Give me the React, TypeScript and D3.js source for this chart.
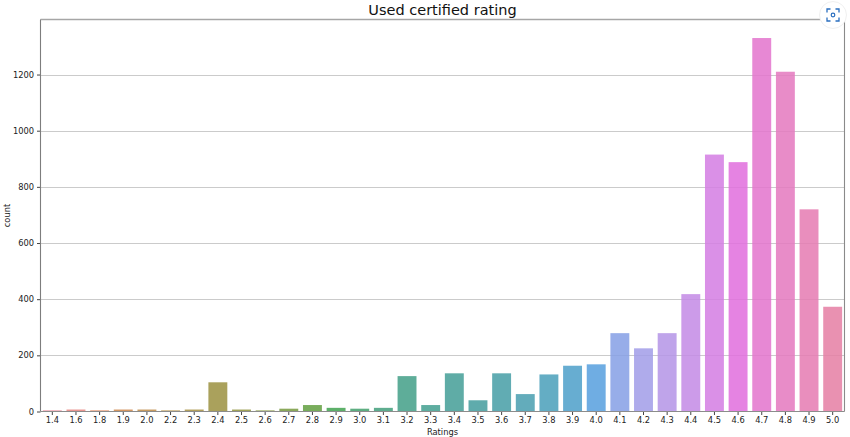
import * as d3 from "d3";
import React from "react";

const ratings = [
  "1.4", "1.6", "1.8", "1.9", "2.0", "2.2", "2.3", "2.4", "2.5", "2.6", "2.7", "2.8",
  "2.9", "3.0", "3.1", "3.2", "3.3", "3.4", "3.5", "3.6", "3.7", "3.8", "3.9", "4.0",
  "4.1", "4.2", "4.3", "4.4", "4.5", "4.6", "4.7", "4.8", "4.9", "5.0",
];
const counts = [
  4, 7, 4, 7, 7, 4, 7, 104, 7, 4, 10, 23,
  13, 10, 13, 126, 23, 136, 40, 136, 62, 132, 163, 168,
  279, 225, 279, 418, 915, 888, 1330, 1210, 720, 373,
];
const yTicks = [0, 200, 400, 600, 800, 1000, 1200];

const M = [
  [3.240969941904521, -1.537383177570093, -0.498610760292],
  [-0.96924363628087, 1.87596750150772, 0.041555057407175],
  [0.055630079696993, -0.20397695888897, 1.056971514242878],
];

// seaborn's default palette for many categories (husl), then its 0.75 saturation
function huslColor(i: number, n: number): string {
  const h = (((i / n + 0.01) % 1) * 359 * Math.PI) / 180;
  const S = 0.9 * 99;
  const L = 0.65 * 99;
  const sub1 = Math.pow(L + 16, 3) / 1560896;
  const sub2 = sub1 > 0.0088564516 ? sub1 : L / 903.2962962;
  let maxC = Infinity;
  M.forEach(([m1, m2, m3]) => {
    [0, 1].forEach((t) => {
      const top1 = (284517 * m1 - 94839 * m3) * sub2;
      const top2 = (838422 * m3 + 769860 * m2 + 731718 * m1) * L * sub2 - 769860 * t * L;
      const bottom = (632260 * m3 - 126452 * m2) * sub2 + 126452 * t;
      const len = top2 / bottom / (Math.sin(h) - (top1 / bottom) * Math.cos(h));
      if (len >= 0) maxC = Math.min(maxC, len);
    });
  });
  const C = (maxC / 100) * S;
  const varU = (C * Math.cos(h)) / (13 * L) + 0.19783000664283;
  const varV = (C * Math.sin(h)) / (13 * L) + 0.46831999493879;
  const Y = Math.pow((L + 16) / 116, 3);
  const X = -(9 * Y * varU) / ((varU - 4) * varV - varU * varV);
  const Z = (9 * Y - 15 * varV * Y - varV * X) / (3 * varV);
  const [r, g, b] = M.map((row) => {
    const v = row[0] * X + row[1] * Y + row[2] * Z;
    const c = v <= 0.0031308 ? 12.92 * v : 1.055 * Math.pow(v, 1 / 2.4) - 0.055;
    return Math.max(0, Math.min(1, c)) * 255;
  });
  const col = d3.hsl(d3.rgb(r, g, b));
  col.s *= 0.75;
  return col.formatHex();
}

const App: React.FC = (): React.ReactElement => {
  const ref = React.useRef<SVGSVGElement>(null);

  React.useEffect(() => {
    const width = 850;
    const height = 437;
    const margin = { left: 40.5, right: 5.5, top: 19.5, bottom: 25.5 };

    const svg = d3.select(ref.current);
    svg.selectAll("*").remove();

    const x = d3
      .scaleBand()
      .domain(ratings)
      .range([margin.left, width - margin.right])
      .paddingInner(0.2)
      .paddingOuter(0.1);
    const y = d3
      .scaleLinear()
      .domain([0, 1396])
      .range([height - margin.bottom, margin.top]);

    const font = "'DejaVu Sans', sans-serif";

    // grid first, it shows faintly through the bars
    svg
      .append("g")
      .selectAll("line")
      .data(yTicks.slice(1))
      .enter()
      .append("line")
      .attr("x1", margin.left)
      .attr("x2", width - margin.right)
      .attr("y1", (d) => Math.round(y(d)) + 0.5)
      .attr("y2", (d) => Math.round(y(d)) + 0.5)
      .attr("stroke", "#cbcbcb")
      .attr("stroke-width", 1);

    svg
      .append("g")
      .selectAll("rect")
      .data(ratings)
      .enter()
      .append("rect")
      .attr("x", (d) => x(d) as number)
      .attr("width", x.bandwidth())
      .attr("y", (d, i) => y(counts[i]))
      .attr("height", (d, i) => y(0) - y(counts[i]))
      .attr("fill", (d, i) => huslColor(i, ratings.length))
      .attr("fill-opacity", 0.86);

    const xAxis = svg
      .append("g")
      .attr("transform", `translate(0,${height - margin.bottom})`)
      .call(d3.axisBottom(x).tickSize(3.5).tickPadding(2.5));
    const yAxis = svg
      .append("g")
      .attr("transform", `translate(${margin.left},0)`)
      .call(d3.axisLeft(y).tickValues(yTicks).tickFormat(d3.format("d")).tickSize(3.5).tickPadding(3));

    [xAxis, yAxis].forEach((axis) => {
      axis.select(".domain").remove();
      axis.selectAll("line").attr("stroke", "#444");
      axis
        .selectAll("text")
        .attr("font-family", font)
        .attr("font-size", 8.3)
        .attr("fill", "#222");
    });

    // spines, the top one looks wider and lighter in the picture
    const spine = (x1: number, y1: number, x2: number, y2: number, color: string, w: number) =>
      svg
        .append("line")
        .attr("x1", x1)
        .attr("y1", y1)
        .attr("x2", x2)
        .attr("y2", y2)
        .attr("stroke", color)
        .attr("stroke-width", w);
    spine(margin.left, margin.top, width - margin.right, margin.top, "#a6a6a6", 1.6);
    spine(margin.left, height - margin.bottom, width - margin.right, height - margin.bottom, "#8c8c8c", 1.2);
    spine(margin.left, margin.top, margin.left, height - margin.bottom, "#7d7d7d", 1.1);
    spine(width - margin.right, margin.top, width - margin.right, height - margin.bottom, "#8a8a8a", 1.1);

    svg
      .append("text")
      .attr("x", (margin.left + width - margin.right) / 2)
      .attr("y", 15)
      .attr("text-anchor", "middle")
      .attr("font-family", font)
      .attr("font-size", 14.5)
      .attr("fill", "#111")
      .text("Used certified rating");
    svg
      .append("text")
      .attr("x", (margin.left + width - margin.right) / 2)
      .attr("y", 435)
      .attr("text-anchor", "middle")
      .attr("font-family", font)
      .attr("font-size", 8.3)
      .attr("fill", "#222")
      .text("Ratings");
    svg
      .append("text")
      .attr("transform", "translate(10,215.5) rotate(-90)")
      .attr("text-anchor", "middle")
      .attr("font-family", font)
      .attr("font-size", 8.3)
      .attr("fill", "#222")
      .text("count");

    // screenshot button sitting on the top right corner
    const icon = svg.append("g").attr("transform", "translate(833,15)");
    icon.append("circle").attr("r", 13.5).attr("fill", "#fff").attr("stroke", "#f0f0f0");
    icon
      .append("path")
      .attr("d", "M-6,-2.5V-6H-2.5M2.5,-6H6V-2.5M6,2.5V6H2.5M-2.5,6H-6V2.5")
      .attr("fill", "none")
      .attr("stroke", "#2a6fc0")
      .attr("stroke-width", 1.3);
    icon.append("circle").attr("r", 1.8).attr("fill", "none").attr("stroke", "#2a6fc0").attr("stroke-width", 1.2);
  }, []);

  return (
    <svg
      ref={ref}
      width={850}
      height={437}
      style={{ position: "absolute", left: 0, top: 0, background: "#fff" }}
    />
  );
};

export default App;
